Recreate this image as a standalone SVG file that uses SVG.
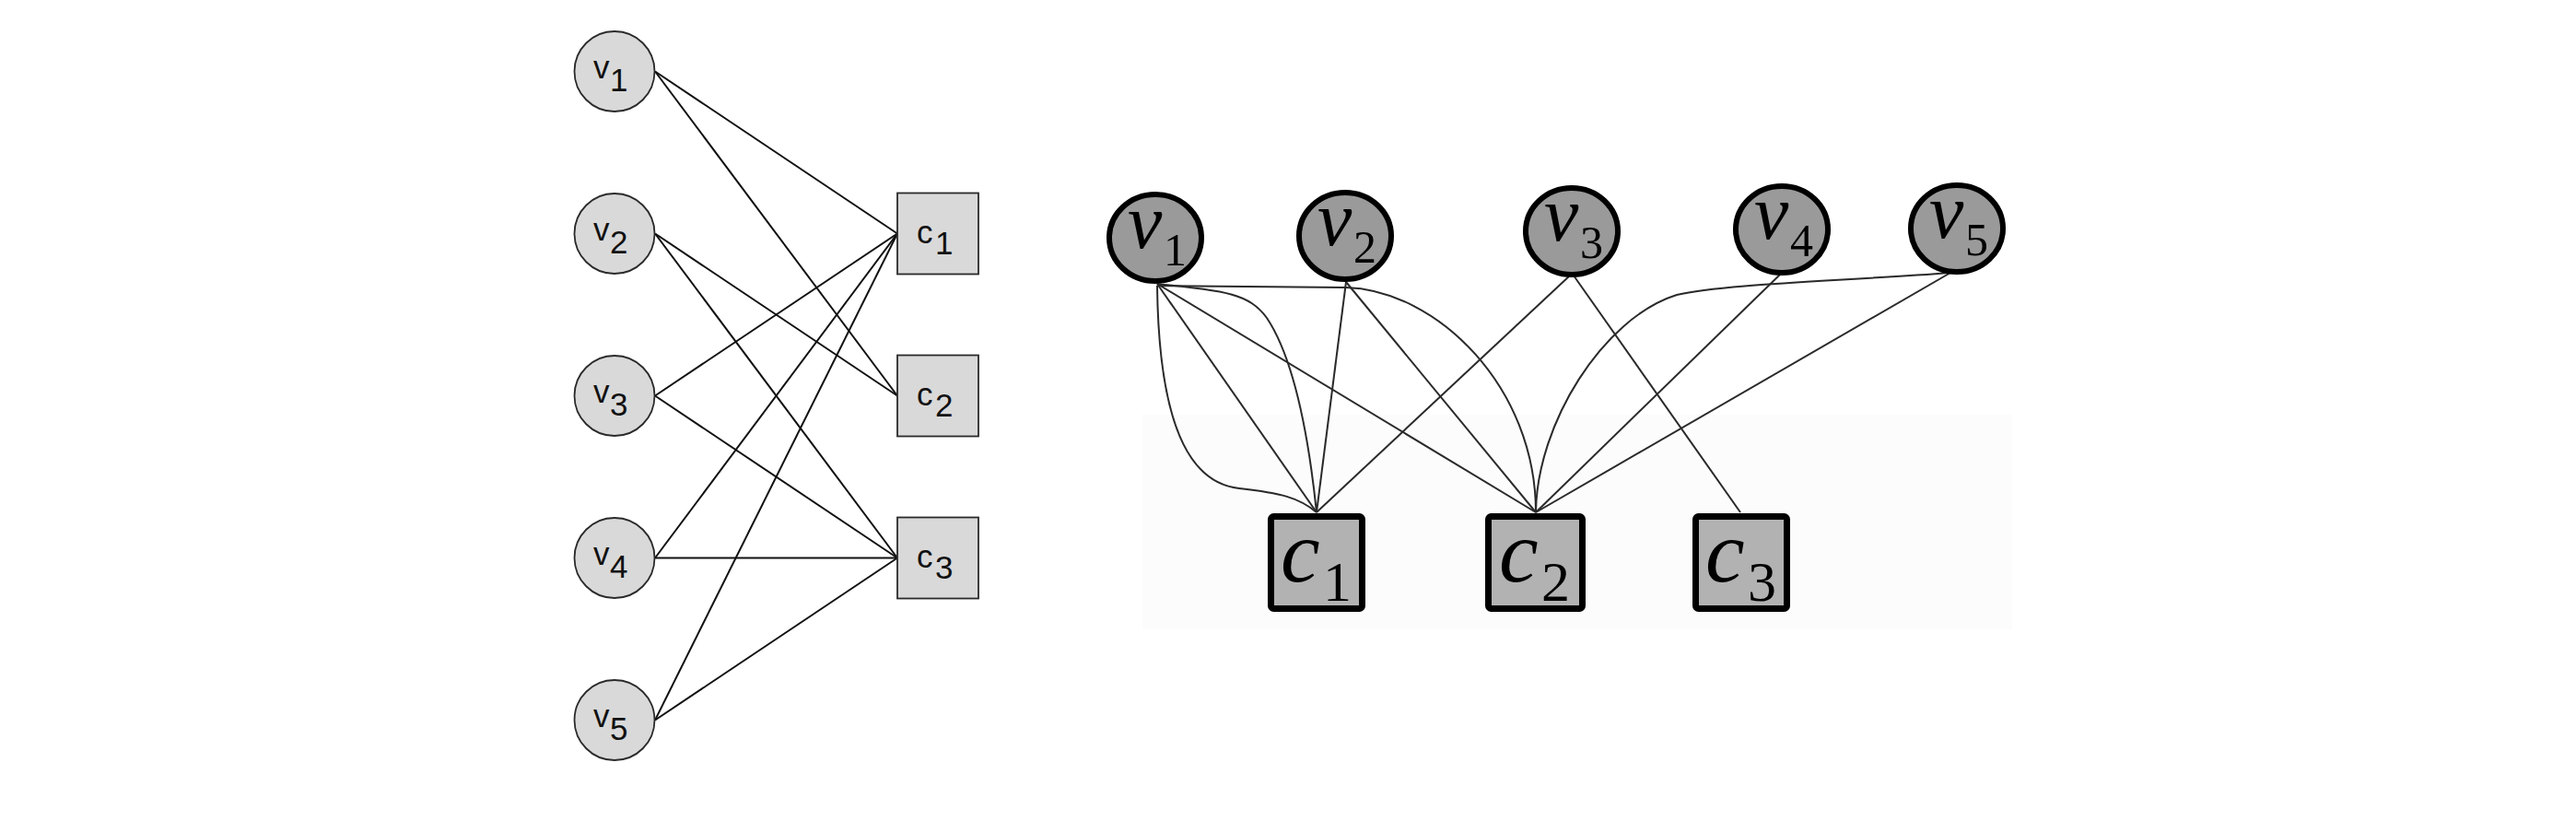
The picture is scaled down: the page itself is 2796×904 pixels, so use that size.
<svg xmlns="http://www.w3.org/2000/svg" width="2796" height="904" viewBox="0 0 2796 904">
<style>
.bg{fill:#ffffff}
.faint{fill:#fcfcfc}
.le{stroke:#111;stroke-width:2;fill:none}
.lv{fill:#d9d9d9;stroke:#2a2a2a;stroke-width:1.8}
.lc{fill:#d9d9d9;stroke:#2a2a2a;stroke-width:1.8}
.lt{font-family:"Liberation Sans",Arial,sans-serif;font-size:35px;fill:#111}
.re{stroke:#2a2a2a;stroke-width:2;fill:none}
.rv{fill:#9a9a9a;stroke:#000;stroke-width:6}
.rc{fill:#b2b2b2;stroke:#000;stroke-width:7}
.rt{font-family:"Liberation Serif","Times New Roman",serif;fill:#000}
.it{font-style:italic}
</style>
<rect class="bg" x="0" y="0" width="2796" height="904"/>
<rect class="faint" x="1240" y="450" width="944" height="233"/>

<g id="left-connectors">
<line class="le" x1="711" y1="77.5" x2="974" y2="253.5"/>
<line class="le" x1="711" y1="77.5" x2="974" y2="429.5"/>
<line class="le" x1="711" y1="253.5" x2="974" y2="429.5"/>
<line class="le" x1="711" y1="253.5" x2="974" y2="605.5"/>
<line class="le" x1="711" y1="429.5" x2="974" y2="253.5"/>
<line class="le" x1="711" y1="429.5" x2="974" y2="605.5"/>
<line class="le" x1="711" y1="605.5" x2="974" y2="253.5"/>
<line class="le" x1="711" y1="605.5" x2="974" y2="605.5"/>
<line class="le" x1="711" y1="781.5" x2="974" y2="253.5"/>
<line class="le" x1="711" y1="781.5" x2="974" y2="605.5"/>
</g>

<g id="L-v1"><circle class="lv" cx="667" cy="77.5" r="43.5"/><text class="lt" x="644" y="85">v<tspan x="662" y="98.5">1</tspan></text></g>
<g id="L-v2"><circle class="lv" cx="667" cy="253.5" r="43.5"/><text class="lt" x="644" y="261">v<tspan x="662" y="274.5">2</tspan></text></g>
<g id="L-v3"><circle class="lv" cx="667" cy="429.5" r="43.5"/><text class="lt" x="644" y="437">v<tspan x="662" y="450.5">3</tspan></text></g>
<g id="L-v4"><circle class="lv" cx="667" cy="605.5" r="43.5"/><text class="lt" x="644" y="613">v<tspan x="662" y="626.5">4</tspan></text></g>
<g id="L-v5"><circle class="lv" cx="667" cy="781.5" r="43.5"/><text class="lt" x="644" y="789">v<tspan x="662" y="802.5">5</tspan></text></g>
<g id="L-c1"><rect class="lc" x="974" y="209.5" width="88" height="88"/><text class="lt" x="995" y="263.5">c<tspan x="1015" y="275.5">1</tspan></text></g>
<g id="L-c2"><rect class="lc" x="974" y="385.5" width="88" height="88"/><text class="lt" x="995" y="439.5">c<tspan x="1015" y="451.5">2</tspan></text></g>
<g id="L-c3"><rect class="lc" x="974" y="561.5" width="88" height="88"/><text class="lt" x="995" y="615.5">c<tspan x="1015" y="627.5">3</tspan></text></g>

<g id="right-connectors">
<line class="re" x1="1256" y1="308" x2="1429" y2="556"/>
<path class="re" d="M1256,310 C1258,480 1300,525 1345,530 C1390,535 1410,540 1429,556"/>
<path class="re" d="M1256,308 C1330,316 1355,318 1375,345 C1405,390 1420,470 1429,556"/>
<line class="re" x1="1256" y1="308" x2="1667" y2="556"/>
<path class="re" d="M1256,310 L1461,312 C1560,315 1667,420 1667,556"/>
<line class="re" x1="1461" y1="306" x2="1429" y2="556"/>
<line class="re" x1="1461" y1="306" x2="1667" y2="556"/>
<line class="re" x1="1704" y1="299" x2="1429" y2="556"/>
<line class="re" x1="1708" y1="299" x2="1889" y2="556"/>
<line class="re" x1="1933" y1="297" x2="1667" y2="556"/>
<line class="re" x1="2117" y1="296" x2="1667" y2="556"/>
<path class="re" d="M2117,296 C2000,305 1870,308 1820,320 C1740,345 1668,460 1667,556"/>
</g>

<g id="R-v1"><ellipse class="rv" cx="1254" cy="258" rx="50" ry="47"/><text class="rt" x="1224" y="269"><tspan class="it" font-size="84">v</tspan><tspan x="1263" y="288" font-size="50">1</tspan></text></g>
<g id="R-v2"><ellipse class="rv" cx="1460" cy="256" rx="50" ry="47"/><text class="rt" x="1430" y="266"><tspan class="it" font-size="84">v</tspan><tspan x="1469" y="285" font-size="50">2</tspan></text></g>
<g id="R-v3"><ellipse class="rv" cx="1706" cy="251" rx="50" ry="47"/><text class="rt" x="1676" y="261"><tspan class="it" font-size="84">v</tspan><tspan x="1715" y="280" font-size="50">3</tspan></text></g>
<g id="R-v4"><ellipse class="rv" cx="1934" cy="249" rx="50" ry="47"/><text class="rt" x="1904" y="259"><tspan class="it" font-size="84">v</tspan><tspan x="1943" y="278" font-size="50">4</tspan></text></g>
<g id="R-v5"><ellipse class="rv" cx="2124" cy="248" rx="50" ry="47"/><text class="rt" x="2094" y="258"><tspan class="it" font-size="84">v</tspan><tspan x="2133" y="277" font-size="50">5</tspan></text></g>

<g id="R-c1"><rect class="rc" x="1379.5" y="560.5" width="99" height="100" rx="3"/><text class="rt" x="1390" y="631"><tspan class="it" font-size="96">c</tspan><tspan x="1436" y="652" font-size="62">1</tspan></text></g>
<g id="R-c2"><rect class="rc" x="1615.5" y="560.5" width="102" height="100" rx="3"/><text class="rt" x="1627" y="631"><tspan class="it" font-size="96">c</tspan><tspan x="1673" y="652" font-size="62">2</tspan></text></g>
<g id="R-c3"><rect class="rc" x="1840.5" y="560.5" width="99" height="100" rx="3"/><text class="rt" x="1851" y="631"><tspan class="it" font-size="96">c</tspan><tspan x="1897" y="652" font-size="62">3</tspan></text></g>
</svg>
